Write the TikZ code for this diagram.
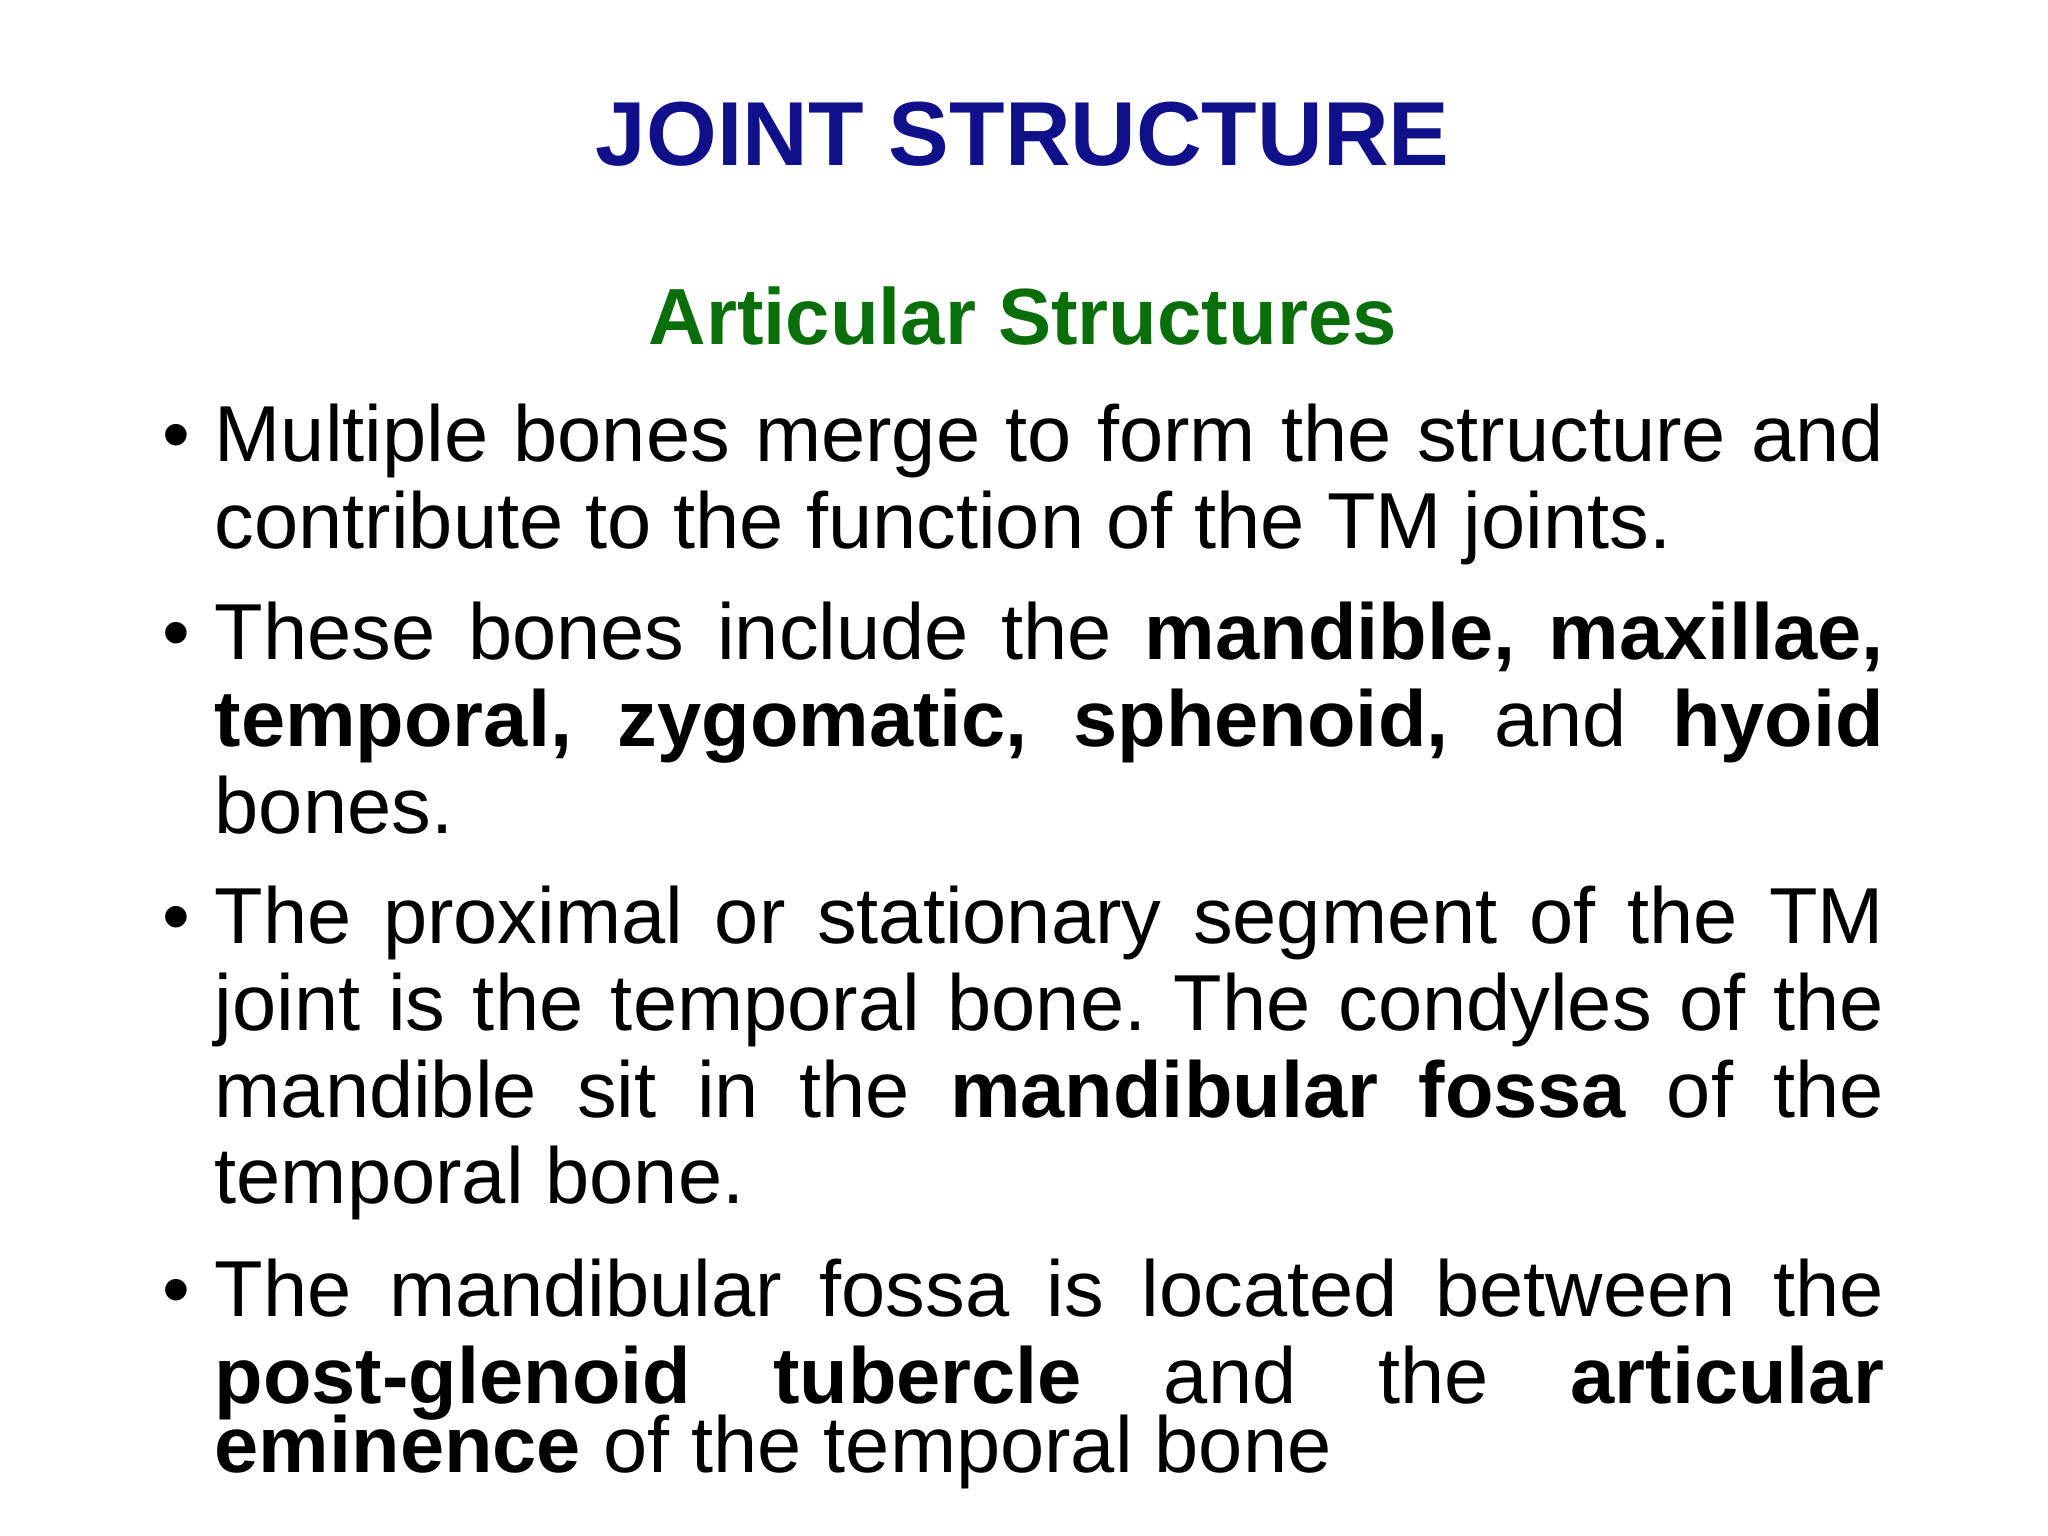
\documentclass[tikz,border=0pt]{standalone}
\usepackage{fontspec}
\setmainfont{Liberation Sans}
\frenchspacing
\definecolor{titleblue}{RGB}{16,16,138}
\definecolor{subgreen}{RGB}{10,110,10}
\tikzset{
  body/.style={anchor=base west,inner sep=0pt,text width=639pt,align=justify,font=\fontsize{30.4}{33.3}\selectfont\frenchspacing},
  bul/.style={anchor=base west,inner sep=0pt,font=\fontsize{30.4}{33.3}\selectfont}
}
\begin{document}
\begin{tikzpicture}[x=0.5pt,y=-0.5pt]
\useasboundingbox[fill=white] (0,0) rectangle (1568,1176);
\node[anchor=base,inner sep=0pt,text=titleblue,font=\fontsize{34.8}{40}\selectfont\bfseries] (title) at (783,127) {JOINT STRUCTURE};
\node[anchor=base,inner sep=0pt,text=subgreen,font=\fontsize{30.5}{34}\selectfont\bfseries] (sub) at (783,264) {Articular Structures};
\node[bul] (b1) at (124,353) {•};
\node[body] (t1) at (164,353) {Multiple bones merge to form the structure and\linebreak contribute to the function of the TM joints.};
\node[bul] (b2) at (124,505) {•};
\node[body] (t2) at (164,505) {These bones include the \textbf{mandible, maxillae,}\linebreak \textbf{temporal, zygomatic, sphenoid,} and \textbf{hyoid}\linebreak bones.};
\node[bul] (b3) at (124,722) {•};
\node[body] (t3) at (164,722) {The proximal or stationary segment of the TM\linebreak joint is the temporal bone. The condyles of the\linebreak mandible sit in the \textbf{mandibular fossa} of the\linebreak temporal bone.};
\node[bul] (b4) at (124,1008) {•};
\node[body] (t4) at (164,1008) {The mandibular fossa is located between the\linebreak \textbf{post-glenoid tubercle} and the \textbf{articular}\linebreak};
\node[body] (t4b) at (164,1127) {\textbf{eminence} of the temporal bone};
\end{tikzpicture}
\end{document}
